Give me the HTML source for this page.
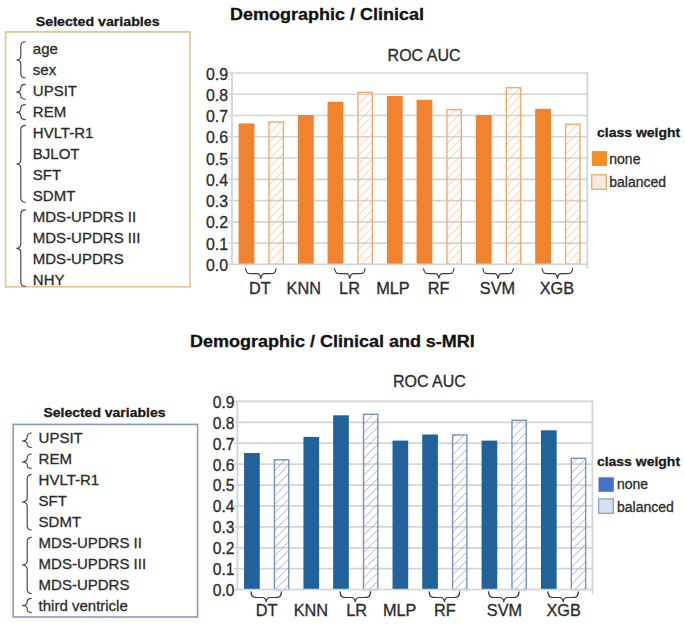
<!DOCTYPE html>
<html><head><meta charset="utf-8"><style>
html,body{margin:0;padding:0;background:#fff;}
svg{display:block;font-family:"Liberation Sans", sans-serif;}
</style></head><body>
<svg width="685" height="631" viewBox="0 0 685 631">
<defs>
<pattern id="hO" patternUnits="userSpaceOnUse" width="6.05" height="6.05" patternTransform="rotate(45)">
<line x1="0" y1="0" x2="0" y2="6.05" stroke="#F7BE94" stroke-width="1.3"/></pattern>
<pattern id="hB" patternUnits="userSpaceOnUse" width="6.05" height="6.05" patternTransform="rotate(45)">
<line x1="0" y1="0" x2="0" y2="6.05" stroke="#98A9CB" stroke-width="1.3"/></pattern>
</defs>
<rect width="685" height="631" fill="#fff"/>

<text transform="translate(230.00,19.60) scale(1,0.92)" x="0" y="0" font-size="18" font-weight="bold" text-anchor="start" fill="#111" stroke="#111" stroke-width="0.3">Demographic / Clinical</text>
<text transform="translate(35.80,26.00) scale(1,0.92)" x="0" y="0" font-size="14.2" font-weight="bold" text-anchor="start" fill="#1a1a1a" stroke="#1a1a1a" stroke-width="0.3">Selected variables</text>
<rect x="5.6" y="31.9" width="184.3" height="254.9" fill="none" stroke="#DFC794" stroke-width="1.7"/>
<text x="32.80" y="53.50" font-size="15" text-anchor="start" fill="#2b2b2b" stroke="#2b2b2b" stroke-width="0.3">age</text>
<text x="32.80" y="74.50" font-size="15" text-anchor="start" fill="#2b2b2b" stroke="#2b2b2b" stroke-width="0.3">sex</text>
<text x="32.80" y="95.50" font-size="15" text-anchor="start" fill="#2b2b2b" stroke="#2b2b2b" stroke-width="0.3">UPSIT</text>
<text x="32.80" y="116.50" font-size="15" text-anchor="start" fill="#2b2b2b" stroke="#2b2b2b" stroke-width="0.3">REM</text>
<text x="32.80" y="137.50" font-size="15" text-anchor="start" fill="#2b2b2b" stroke="#2b2b2b" stroke-width="0.3">HVLT-R1</text>
<text x="32.80" y="158.50" font-size="15" text-anchor="start" fill="#2b2b2b" stroke="#2b2b2b" stroke-width="0.3">BJLOT</text>
<text x="32.80" y="179.50" font-size="15" text-anchor="start" fill="#2b2b2b" stroke="#2b2b2b" stroke-width="0.3">SFT</text>
<text x="32.80" y="200.50" font-size="15" text-anchor="start" fill="#2b2b2b" stroke="#2b2b2b" stroke-width="0.3">SDMT</text>
<text x="32.80" y="221.50" font-size="15" text-anchor="start" fill="#2b2b2b" stroke="#2b2b2b" stroke-width="0.3">MDS-UPDRS II</text>
<text x="32.80" y="242.50" font-size="15" text-anchor="start" fill="#2b2b2b" stroke="#2b2b2b" stroke-width="0.3">MDS-UPDRS III</text>
<text x="32.80" y="263.50" font-size="15" text-anchor="start" fill="#2b2b2b" stroke="#2b2b2b" stroke-width="0.3">MDS-UPDRS</text>
<text x="32.80" y="284.50" font-size="15" text-anchor="start" fill="#2b2b2b" stroke="#2b2b2b" stroke-width="0.3">NHY</text>
<path d="M25.70,41.70 Q20.80,41.70 20.80,46.20 L20.80,55.50 Q20.80,60.00 16.30,60.00 Q20.80,60.00 20.80,64.50 L20.80,73.50 Q20.80,78.00 25.70,78.00" fill="none" stroke="#444" stroke-width="1.15"/>
<path d="M25.70,84.30 Q20.80,84.30 20.80,88.20 L20.80,88.20 Q20.80,92.10 16.30,92.10 Q20.80,92.10 20.80,95.65 L20.80,95.65 Q20.80,99.20 25.70,99.20" fill="none" stroke="#444" stroke-width="1.15"/>
<path d="M25.70,104.60 Q20.80,104.60 20.80,108.50 L20.80,108.50 Q20.80,112.40 16.30,112.40 Q20.80,112.40 20.80,116.00 L20.80,116.00 Q20.80,119.60 25.70,119.60" fill="none" stroke="#444" stroke-width="1.15"/>
<path d="M25.70,125.30 Q20.80,125.30 20.80,129.80 L20.80,159.50 Q20.80,164.00 16.30,164.00 Q20.80,164.00 20.80,168.50 L20.80,197.70 Q20.80,202.20 25.70,202.20" fill="none" stroke="#444" stroke-width="1.15"/>
<path d="M25.70,209.80 Q20.80,209.80 20.80,214.30 L20.80,243.80 Q20.80,248.30 16.30,248.30 Q20.80,248.30 20.80,252.80 L20.80,281.90 Q20.80,286.40 25.70,286.40" fill="none" stroke="#444" stroke-width="1.15"/>
<text x="387.60" y="61.00" font-size="16" text-anchor="start" fill="#2b2b2b" stroke="#2b2b2b" stroke-width="0.3">ROC AUC</text>
<line x1="232.00" y1="243.04" x2="587.30" y2="243.04" stroke="#D3D4D5" stroke-width="1.7"/>
<line x1="232.00" y1="221.79" x2="587.30" y2="221.79" stroke="#D3D4D5" stroke-width="1.7"/>
<line x1="232.00" y1="200.53" x2="587.30" y2="200.53" stroke="#D3D4D5" stroke-width="1.7"/>
<line x1="232.00" y1="179.28" x2="587.30" y2="179.28" stroke="#D3D4D5" stroke-width="1.7"/>
<line x1="232.00" y1="158.02" x2="587.30" y2="158.02" stroke="#D3D4D5" stroke-width="1.7"/>
<line x1="232.00" y1="136.77" x2="587.30" y2="136.77" stroke="#D3D4D5" stroke-width="1.7"/>
<line x1="232.00" y1="115.51" x2="587.30" y2="115.51" stroke="#D3D4D5" stroke-width="1.7"/>
<line x1="232.00" y1="94.26" x2="587.30" y2="94.26" stroke="#D3D4D5" stroke-width="1.7"/>
<line x1="232.00" y1="73.00" x2="587.30" y2="73.00" stroke="#D3D4D5" stroke-width="1.7"/>
<line x1="228.00" y1="264.30" x2="232.00" y2="264.30" stroke="#D3D4D5" stroke-width="1.5"/>
<line x1="228.00" y1="243.04" x2="232.00" y2="243.04" stroke="#D3D4D5" stroke-width="1.5"/>
<line x1="228.00" y1="221.79" x2="232.00" y2="221.79" stroke="#D3D4D5" stroke-width="1.5"/>
<line x1="228.00" y1="200.53" x2="232.00" y2="200.53" stroke="#D3D4D5" stroke-width="1.5"/>
<line x1="228.00" y1="179.28" x2="232.00" y2="179.28" stroke="#D3D4D5" stroke-width="1.5"/>
<line x1="228.00" y1="158.02" x2="232.00" y2="158.02" stroke="#D3D4D5" stroke-width="1.5"/>
<line x1="228.00" y1="136.77" x2="232.00" y2="136.77" stroke="#D3D4D5" stroke-width="1.5"/>
<line x1="228.00" y1="115.51" x2="232.00" y2="115.51" stroke="#D3D4D5" stroke-width="1.5"/>
<line x1="228.00" y1="94.26" x2="232.00" y2="94.26" stroke="#D3D4D5" stroke-width="1.5"/>
<line x1="228.00" y1="73.00" x2="232.00" y2="73.00" stroke="#D3D4D5" stroke-width="1.5"/>
<line x1="232.00" y1="72.20" x2="232.00" y2="265.10" stroke="#D3D4D6" stroke-width="1.8"/>
<line x1="587.30" y1="72.20" x2="587.30" y2="268.50" stroke="#D3D4D6" stroke-width="1.8"/>
<rect x="238.60" y="123.40" width="15.80" height="140.90" fill="#F1822E"/>
<rect x="268.96" y="122.00" width="14.40" height="142.30" fill="url(#hO)" stroke="#F4A96A" stroke-width="1.4"/>
<rect x="297.92" y="115.00" width="15.80" height="149.30" fill="#F1822E"/>
<rect x="327.58" y="101.80" width="15.80" height="162.50" fill="#F1822E"/>
<rect x="357.94" y="92.30" width="14.40" height="172.00" fill="url(#hO)" stroke="#F4A96A" stroke-width="1.4"/>
<rect x="386.90" y="96.00" width="15.80" height="168.30" fill="#F1822E"/>
<rect x="416.56" y="99.80" width="15.80" height="164.50" fill="#F1822E"/>
<rect x="446.92" y="109.60" width="14.40" height="154.70" fill="url(#hO)" stroke="#F4A96A" stroke-width="1.4"/>
<rect x="475.88" y="115.00" width="15.80" height="149.30" fill="#F1822E"/>
<rect x="506.24" y="87.70" width="14.40" height="176.60" fill="url(#hO)" stroke="#F4A96A" stroke-width="1.4"/>
<rect x="535.20" y="108.80" width="15.80" height="155.50" fill="#F1822E"/>
<rect x="565.56" y="124.20" width="14.40" height="140.10" fill="url(#hO)" stroke="#F4A96A" stroke-width="1.4"/>
<line x1="232.00" y1="264.30" x2="587.30" y2="264.30" stroke="#D0D1D3" stroke-width="1.5"/>
<text x="228.00" y="271.00" font-size="15.9" text-anchor="end" fill="#2b2b2b" stroke="#2b2b2b" stroke-width="0.3">0.0</text>
<text x="228.00" y="249.74" font-size="15.9" text-anchor="end" fill="#2b2b2b" stroke="#2b2b2b" stroke-width="0.3">0.1</text>
<text x="228.00" y="228.49" font-size="15.9" text-anchor="end" fill="#2b2b2b" stroke="#2b2b2b" stroke-width="0.3">0.2</text>
<text x="228.00" y="207.23" font-size="15.9" text-anchor="end" fill="#2b2b2b" stroke="#2b2b2b" stroke-width="0.3">0.3</text>
<text x="228.00" y="185.98" font-size="15.9" text-anchor="end" fill="#2b2b2b" stroke="#2b2b2b" stroke-width="0.3">0.4</text>
<text x="228.00" y="164.72" font-size="15.9" text-anchor="end" fill="#2b2b2b" stroke="#2b2b2b" stroke-width="0.3">0.5</text>
<text x="228.00" y="143.47" font-size="15.9" text-anchor="end" fill="#2b2b2b" stroke="#2b2b2b" stroke-width="0.3">0.6</text>
<text x="228.00" y="122.21" font-size="15.9" text-anchor="end" fill="#2b2b2b" stroke="#2b2b2b" stroke-width="0.3">0.7</text>
<text x="228.00" y="100.96" font-size="15.9" text-anchor="end" fill="#2b2b2b" stroke="#2b2b2b" stroke-width="0.3">0.8</text>
<text x="228.00" y="79.70" font-size="15.9" text-anchor="end" fill="#2b2b2b" stroke="#2b2b2b" stroke-width="0.3">0.9</text>
<path d="M245.50,268.30 C246.10,273.60 248.10,273.60 252.00,273.60 L256.93,273.60 C259.33,273.60 260.53,275.60 260.83,278.60 C261.13,275.60 262.33,273.60 264.73,273.60 L269.66,273.60 C273.56,273.60 275.56,273.60 276.16,268.30" fill="none" stroke="#3a3a3a" stroke-width="1.2"/>
<path d="M334.48,268.30 C335.08,273.60 337.08,273.60 340.98,273.60 L345.91,273.60 C348.31,273.60 349.51,275.60 349.81,278.60 C350.11,275.60 351.31,273.60 353.71,273.60 L358.64,273.60 C362.54,273.60 364.54,273.60 365.14,268.30" fill="none" stroke="#3a3a3a" stroke-width="1.2"/>
<path d="M423.46,268.30 C424.06,273.60 426.06,273.60 429.96,273.60 L434.89,273.60 C437.29,273.60 438.49,275.60 438.79,278.60 C439.09,275.60 440.29,273.60 442.69,273.60 L447.62,273.60 C451.52,273.60 453.52,273.60 454.12,268.30" fill="none" stroke="#3a3a3a" stroke-width="1.2"/>
<path d="M482.78,268.30 C483.38,273.60 485.38,273.60 489.28,273.60 L494.21,273.60 C496.61,273.60 497.81,275.60 498.11,278.60 C498.41,275.60 499.61,273.60 502.01,273.60 L506.94,273.60 C510.84,273.60 512.84,273.60 513.44,268.30" fill="none" stroke="#3a3a3a" stroke-width="1.2"/>
<path d="M542.10,268.30 C542.70,273.60 544.70,273.60 548.60,273.60 L553.53,273.60 C555.93,273.60 557.13,275.60 557.43,278.60 C557.73,275.60 558.93,273.60 561.33,273.60 L566.26,273.60 C570.16,273.60 572.16,273.60 572.76,268.30" fill="none" stroke="#3a3a3a" stroke-width="1.2"/>
<text x="259.80" y="294.20" font-size="16.3" text-anchor="middle" fill="#2b2b2b" stroke="#2b2b2b" stroke-width="0.3">DT</text>
<text x="303.75" y="294.20" font-size="16.3" text-anchor="middle" fill="#2b2b2b" stroke="#2b2b2b" stroke-width="0.3">KNN</text>
<text x="349.50" y="294.20" font-size="16.3" text-anchor="middle" fill="#2b2b2b" stroke="#2b2b2b" stroke-width="0.3">LR</text>
<text x="393.00" y="294.20" font-size="16.3" text-anchor="middle" fill="#2b2b2b" stroke="#2b2b2b" stroke-width="0.3">MLP</text>
<text x="438.60" y="294.20" font-size="16.3" text-anchor="middle" fill="#2b2b2b" stroke="#2b2b2b" stroke-width="0.3">RF</text>
<text x="497.50" y="294.20" font-size="16.3" text-anchor="middle" fill="#2b2b2b" stroke="#2b2b2b" stroke-width="0.3">SVM</text>
<text x="556.90" y="294.20" font-size="16.3" text-anchor="middle" fill="#2b2b2b" stroke="#2b2b2b" stroke-width="0.3">XGB</text>
<text transform="translate(597.00,137.30) scale(1,0.92)" x="0" y="0" font-size="14" font-weight="bold" text-anchor="start" fill="#1a1a1a" stroke="#1a1a1a" stroke-width="0.3">class weight</text>
<rect x="591.8" y="151.1" width="15.2" height="14.9" fill="#F39123"/>
<text x="609.30" y="163.50" font-size="14" text-anchor="start" fill="#2b2b2b" stroke="#2b2b2b" stroke-width="0.3">none</text>
<rect x="591.7" y="174.8" width="14.6" height="14.4" fill="#FBE8DC" stroke="#DFA862" stroke-width="1.2"/>
<text x="609.30" y="186.70" font-size="14" text-anchor="start" fill="#2b2b2b" stroke="#2b2b2b" stroke-width="0.3">balanced</text>
<text transform="translate(190.00,346.90) scale(1,0.92)" x="0" y="0" font-size="18" font-weight="bold" text-anchor="start" fill="#111" stroke="#111" stroke-width="0.3">Demographic / Clinical and s-MRI</text>
<text transform="translate(43.40,416.90) scale(1,0.92)" x="0" y="0" font-size="14" font-weight="bold" text-anchor="start" fill="#1a1a1a" stroke="#1a1a1a" stroke-width="0.3">Selected variables</text>
<rect x="13.2" y="424.4" width="184.4" height="192.6" fill="none" stroke="#889CBC" stroke-width="1.6"/>
<text x="38.60" y="443.30" font-size="15" text-anchor="start" fill="#2b2b2b" stroke="#2b2b2b" stroke-width="0.3">UPSIT</text>
<text x="38.60" y="464.30" font-size="15" text-anchor="start" fill="#2b2b2b" stroke="#2b2b2b" stroke-width="0.3">REM</text>
<text x="38.60" y="485.30" font-size="15" text-anchor="start" fill="#2b2b2b" stroke="#2b2b2b" stroke-width="0.3">HVLT-R1</text>
<text x="38.60" y="506.30" font-size="15" text-anchor="start" fill="#2b2b2b" stroke="#2b2b2b" stroke-width="0.3">SFT</text>
<text x="38.60" y="527.30" font-size="15" text-anchor="start" fill="#2b2b2b" stroke="#2b2b2b" stroke-width="0.3">SDMT</text>
<text x="38.60" y="548.30" font-size="15" text-anchor="start" fill="#2b2b2b" stroke="#2b2b2b" stroke-width="0.3">MDS-UPDRS II</text>
<text x="38.60" y="569.30" font-size="15" text-anchor="start" fill="#2b2b2b" stroke="#2b2b2b" stroke-width="0.3">MDS-UPDRS III</text>
<text x="38.60" y="590.30" font-size="15" text-anchor="start" fill="#2b2b2b" stroke="#2b2b2b" stroke-width="0.3">MDS-UPDRS</text>
<text x="38.60" y="611.30" font-size="15" text-anchor="start" fill="#2b2b2b" stroke="#2b2b2b" stroke-width="0.3">third ventricle</text>
<path d="M31.70,433.00 Q27.20,433.00 27.20,437.00 L27.20,437.00 Q27.20,441.00 21.90,441.00 Q27.20,441.00 27.20,444.25 L27.20,444.25 Q27.20,447.50 31.70,447.50" fill="none" stroke="#444" stroke-width="1.15"/>
<path d="M31.70,454.00 Q27.20,454.00 27.20,458.00 L27.20,458.00 Q27.20,462.00 21.90,462.00 Q27.20,462.00 27.20,465.25 L27.20,465.25 Q27.20,468.50 31.70,468.50" fill="none" stroke="#444" stroke-width="1.15"/>
<path d="M31.70,474.50 Q27.20,474.50 27.20,479.00 L27.20,497.50 Q27.20,502.00 21.90,502.00 Q27.20,502.00 27.20,506.50 L27.20,525.50 Q27.20,530.00 31.70,530.00" fill="none" stroke="#444" stroke-width="1.15"/>
<path d="M31.70,537.30 Q27.20,537.30 27.20,541.80 L27.20,560.50 Q27.20,565.00 21.90,565.00 Q27.20,565.00 27.20,569.50 L27.20,589.10 Q27.20,593.60 31.70,593.60" fill="none" stroke="#444" stroke-width="1.15"/>
<path d="M31.70,598.40 Q27.20,598.40 27.20,601.95 L27.20,601.95 Q27.20,605.50 21.90,605.50 Q27.20,605.50 27.20,609.05 L27.20,609.05 Q27.20,612.60 31.70,612.60" fill="none" stroke="#444" stroke-width="1.15"/>
<text x="392.90" y="387.30" font-size="16" text-anchor="start" fill="#2b2b2b" stroke="#2b2b2b" stroke-width="0.3">ROC AUC</text>
<line x1="237.40" y1="568.69" x2="592.40" y2="568.69" stroke="#D3D4D5" stroke-width="1.7"/>
<line x1="237.40" y1="547.78" x2="592.40" y2="547.78" stroke="#D3D4D5" stroke-width="1.7"/>
<line x1="237.40" y1="526.87" x2="592.40" y2="526.87" stroke="#D3D4D5" stroke-width="1.7"/>
<line x1="237.40" y1="505.96" x2="592.40" y2="505.96" stroke="#D3D4D5" stroke-width="1.7"/>
<line x1="237.40" y1="485.04" x2="592.40" y2="485.04" stroke="#D3D4D5" stroke-width="1.7"/>
<line x1="237.40" y1="464.13" x2="592.40" y2="464.13" stroke="#D3D4D5" stroke-width="1.7"/>
<line x1="237.40" y1="443.22" x2="592.40" y2="443.22" stroke="#D3D4D5" stroke-width="1.7"/>
<line x1="237.40" y1="422.31" x2="592.40" y2="422.31" stroke="#D3D4D5" stroke-width="1.7"/>
<line x1="237.40" y1="401.40" x2="592.40" y2="401.40" stroke="#D3D4D5" stroke-width="1.7"/>
<line x1="233.40" y1="589.60" x2="237.40" y2="589.60" stroke="#D3D4D5" stroke-width="1.5"/>
<line x1="233.40" y1="568.69" x2="237.40" y2="568.69" stroke="#D3D4D5" stroke-width="1.5"/>
<line x1="233.40" y1="547.78" x2="237.40" y2="547.78" stroke="#D3D4D5" stroke-width="1.5"/>
<line x1="233.40" y1="526.87" x2="237.40" y2="526.87" stroke="#D3D4D5" stroke-width="1.5"/>
<line x1="233.40" y1="505.96" x2="237.40" y2="505.96" stroke="#D3D4D5" stroke-width="1.5"/>
<line x1="233.40" y1="485.04" x2="237.40" y2="485.04" stroke="#D3D4D5" stroke-width="1.5"/>
<line x1="233.40" y1="464.13" x2="237.40" y2="464.13" stroke="#D3D4D5" stroke-width="1.5"/>
<line x1="233.40" y1="443.22" x2="237.40" y2="443.22" stroke="#D3D4D5" stroke-width="1.5"/>
<line x1="233.40" y1="422.31" x2="237.40" y2="422.31" stroke="#D3D4D5" stroke-width="1.5"/>
<line x1="233.40" y1="401.40" x2="237.40" y2="401.40" stroke="#D3D4D5" stroke-width="1.5"/>
<line x1="237.40" y1="400.60" x2="237.40" y2="590.40" stroke="#D3D4D6" stroke-width="1.8"/>
<line x1="592.40" y1="400.60" x2="592.40" y2="593.80" stroke="#D3D4D6" stroke-width="1.8"/>
<rect x="244.06" y="453.00" width="15.70" height="136.60" fill="#22629B"/>
<rect x="274.45" y="459.80" width="14.30" height="129.80" fill="url(#hB)" stroke="#7893BB" stroke-width="1.4"/>
<rect x="303.44" y="436.90" width="15.70" height="152.70" fill="#22629B"/>
<rect x="333.13" y="415.30" width="15.70" height="174.30" fill="#22629B"/>
<rect x="363.52" y="414.30" width="14.30" height="175.30" fill="url(#hB)" stroke="#7893BB" stroke-width="1.4"/>
<rect x="392.51" y="440.60" width="15.70" height="149.00" fill="#22629B"/>
<rect x="422.20" y="434.50" width="15.70" height="155.10" fill="#22629B"/>
<rect x="452.59" y="434.90" width="14.30" height="154.70" fill="url(#hB)" stroke="#7893BB" stroke-width="1.4"/>
<rect x="481.58" y="440.60" width="15.70" height="149.00" fill="#22629B"/>
<rect x="511.97" y="420.30" width="14.30" height="169.30" fill="url(#hB)" stroke="#7893BB" stroke-width="1.4"/>
<rect x="540.96" y="430.30" width="15.70" height="159.30" fill="#22629B"/>
<rect x="571.35" y="458.30" width="14.30" height="131.30" fill="url(#hB)" stroke="#7893BB" stroke-width="1.4"/>
<line x1="237.40" y1="589.60" x2="592.40" y2="589.60" stroke="#D0D1D3" stroke-width="1.5"/>
<text x="234.40" y="596.00" font-size="15.6" text-anchor="end" fill="#2b2b2b" stroke="#2b2b2b" stroke-width="0.3">0.0</text>
<text x="234.40" y="575.09" font-size="15.6" text-anchor="end" fill="#2b2b2b" stroke="#2b2b2b" stroke-width="0.3">0.1</text>
<text x="234.40" y="554.18" font-size="15.6" text-anchor="end" fill="#2b2b2b" stroke="#2b2b2b" stroke-width="0.3">0.2</text>
<text x="234.40" y="533.27" font-size="15.6" text-anchor="end" fill="#2b2b2b" stroke="#2b2b2b" stroke-width="0.3">0.3</text>
<text x="234.40" y="512.36" font-size="15.6" text-anchor="end" fill="#2b2b2b" stroke="#2b2b2b" stroke-width="0.3">0.4</text>
<text x="234.40" y="491.44" font-size="15.6" text-anchor="end" fill="#2b2b2b" stroke="#2b2b2b" stroke-width="0.3">0.5</text>
<text x="234.40" y="470.53" font-size="15.6" text-anchor="end" fill="#2b2b2b" stroke="#2b2b2b" stroke-width="0.3">0.6</text>
<text x="234.40" y="449.62" font-size="15.6" text-anchor="end" fill="#2b2b2b" stroke="#2b2b2b" stroke-width="0.3">0.7</text>
<text x="234.40" y="428.71" font-size="15.6" text-anchor="end" fill="#2b2b2b" stroke="#2b2b2b" stroke-width="0.3">0.8</text>
<text x="234.40" y="407.80" font-size="15.6" text-anchor="end" fill="#2b2b2b" stroke="#2b2b2b" stroke-width="0.3">0.9</text>
<path d="M250.91,591.40 C251.51,597.50 253.51,597.50 257.41,597.50 L262.36,597.50 C264.75,597.50 265.95,599.30 266.25,602.00 C266.56,599.30 267.75,597.50 270.15,597.50 L275.10,597.50 C279.00,597.50 281.00,597.50 281.60,591.40" fill="none" stroke="#3a3a3a" stroke-width="1.2"/>
<path d="M339.98,591.40 C340.58,597.50 342.58,597.50 346.48,597.50 L351.43,597.50 C353.83,597.50 355.03,599.30 355.33,602.00 C355.63,599.30 356.83,597.50 359.23,597.50 L364.17,597.50 C368.07,597.50 370.07,597.50 370.67,591.40" fill="none" stroke="#3a3a3a" stroke-width="1.2"/>
<path d="M429.05,591.40 C429.65,597.50 431.65,597.50 435.55,597.50 L440.50,597.50 C442.90,597.50 444.10,599.30 444.40,602.00 C444.70,599.30 445.90,597.50 448.30,597.50 L453.24,597.50 C457.14,597.50 459.14,597.50 459.74,591.40" fill="none" stroke="#3a3a3a" stroke-width="1.2"/>
<path d="M488.43,591.40 C489.03,597.50 491.03,597.50 494.93,597.50 L499.88,597.50 C502.28,597.50 503.48,599.30 503.78,602.00 C504.08,599.30 505.28,597.50 507.68,597.50 L512.62,597.50 C516.52,597.50 518.52,597.50 519.12,591.40" fill="none" stroke="#3a3a3a" stroke-width="1.2"/>
<path d="M547.81,591.40 C548.41,597.50 550.41,597.50 554.31,597.50 L559.26,597.50 C561.66,597.50 562.86,599.30 563.16,602.00 C563.46,599.30 564.66,597.50 567.06,597.50 L572.00,597.50 C575.90,597.50 577.90,597.50 578.50,591.40" fill="none" stroke="#3a3a3a" stroke-width="1.2"/>
<text x="266.70" y="615.50" font-size="16.3" text-anchor="middle" fill="#2b2b2b" stroke="#2b2b2b" stroke-width="0.3">DT</text>
<text x="310.85" y="615.50" font-size="16.3" text-anchor="middle" fill="#2b2b2b" stroke="#2b2b2b" stroke-width="0.3">KNN</text>
<text x="356.60" y="615.50" font-size="16.3" text-anchor="middle" fill="#2b2b2b" stroke="#2b2b2b" stroke-width="0.3">LR</text>
<text x="399.70" y="615.50" font-size="16.3" text-anchor="middle" fill="#2b2b2b" stroke="#2b2b2b" stroke-width="0.3">MLP</text>
<text x="444.90" y="615.50" font-size="16.3" text-anchor="middle" fill="#2b2b2b" stroke="#2b2b2b" stroke-width="0.3">RF</text>
<text x="504.50" y="615.50" font-size="16.3" text-anchor="middle" fill="#2b2b2b" stroke="#2b2b2b" stroke-width="0.3">SVM</text>
<text x="563.60" y="615.50" font-size="16.3" text-anchor="middle" fill="#2b2b2b" stroke="#2b2b2b" stroke-width="0.3">XGB</text>
<text transform="translate(596.90,466.40) scale(1,0.92)" x="0" y="0" font-size="14" font-weight="bold" text-anchor="start" fill="#1a1a1a" stroke="#1a1a1a" stroke-width="0.3">class weight</text>
<rect x="598.5" y="477.3" width="15.3" height="14.5" fill="#4472C4"/>
<text x="617.00" y="489.30" font-size="14" text-anchor="start" fill="#2b2b2b" stroke="#2b2b2b" stroke-width="0.3">none</text>
<rect x="598.7" y="498.9" width="14.6" height="14.4" fill="#D7E0EE" stroke="#8CA2C8" stroke-width="1.3"/>
<text x="617.00" y="511.80" font-size="14" text-anchor="start" fill="#2b2b2b" stroke="#2b2b2b" stroke-width="0.3">balanced</text>
</svg></body></html>
